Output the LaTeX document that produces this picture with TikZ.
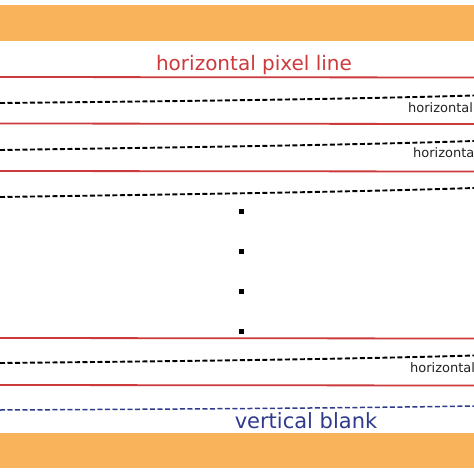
\documentclass[tikz,border=0pt]{standalone}
\usepackage{fontspec}
\setmainfont{DejaVu Sans}
\definecolor{bandorange}{HTML}{F9B35A}
\definecolor{pixred}{HTML}{CC3A3C}
\definecolor{blankblue}{HTML}{2E3A8C}
\definecolor{txtgray}{HTML}{222222}
\tikzset{
  band/.style={fill=bandorange, draw=none},
  pixline/.style={draw=pixred, line width=1.8pt},
  hblank/.style={draw=black, line width=1.9pt, dash pattern=on 5pt off 2.5pt},
  vblank/.style={draw=blankblue, line width=1.5pt, dash pattern=on 5pt off 2.5pt},
  bigred/.style={text=pixred, font=\fontsize{20}{24}\selectfont, anchor=base, inner sep=0pt},
  bigblue/.style={text=blankblue, font=\fontsize{21}{24}\selectfont, anchor=base, inner sep=0pt},
  smalllab/.style={text=txtgray, font=\fontsize{13}{15}\selectfont, anchor=base west, inner sep=0pt},
  dotmark/.style={fill=black, draw=none, minimum size=5pt, inner sep=0pt}
}
\begin{document}
\begin{tikzpicture}[x=1pt, y=-1pt]
\useasboundingbox (0,0) rectangle (474,474);
\clip (0,0) rectangle (474,474);
\fill[white] (0,0) rectangle (474,474);
% bands
\path[band] (0,5) rectangle (474,40.5);
\path[band] (0,433) rectangle (474,468);
% title
\node[bigred] (title) at (254,70) {horizontal pixel line};
% red pixel lines
\path[pixline] (0,77) -- (474,77.5);
\path[pixline] (0,123.5) -- (474,124);
\path[pixline] (0,171) -- (474,171.5);
\path[pixline] (0,338) -- (474,338.5);
\path[pixline] (0,385) -- (474,385.5);
% horizontal blanks
\path[hblank] (0,103) .. controls (200,101) and (350,99) .. (474,95.5);
\path[hblank] (0,150) .. controls (200,147) and (350,145) .. (474,141);
\path[hblank] (0,197) .. controls (200,194) and (350,192) .. (474,188);
\path[hblank] (0,363) .. controls (200,361) and (350,359) .. (474,355.5);
% vertical blank
\path[vblank] (0,410) .. controls (200,409) and (350,408) .. (474,406);
% labels
\node[smalllab] (hb1) at (408,112) {horizontal};
\node[smalllab] (hb2) at (413,157) {horizontal};
\node[smalllab] (hb3) at (410,372) {horizontal};
\node[bigblue] (vb) at (306,428) {vertical blank};
% dots
\node[dotmark] (d1) at (241,211) {};
\node[dotmark] (d2) at (241,251) {};
\node[dotmark] (d3) at (241,291) {};
\node[dotmark] (d4) at (241,331.5) {};
\end{tikzpicture}
\end{document}
